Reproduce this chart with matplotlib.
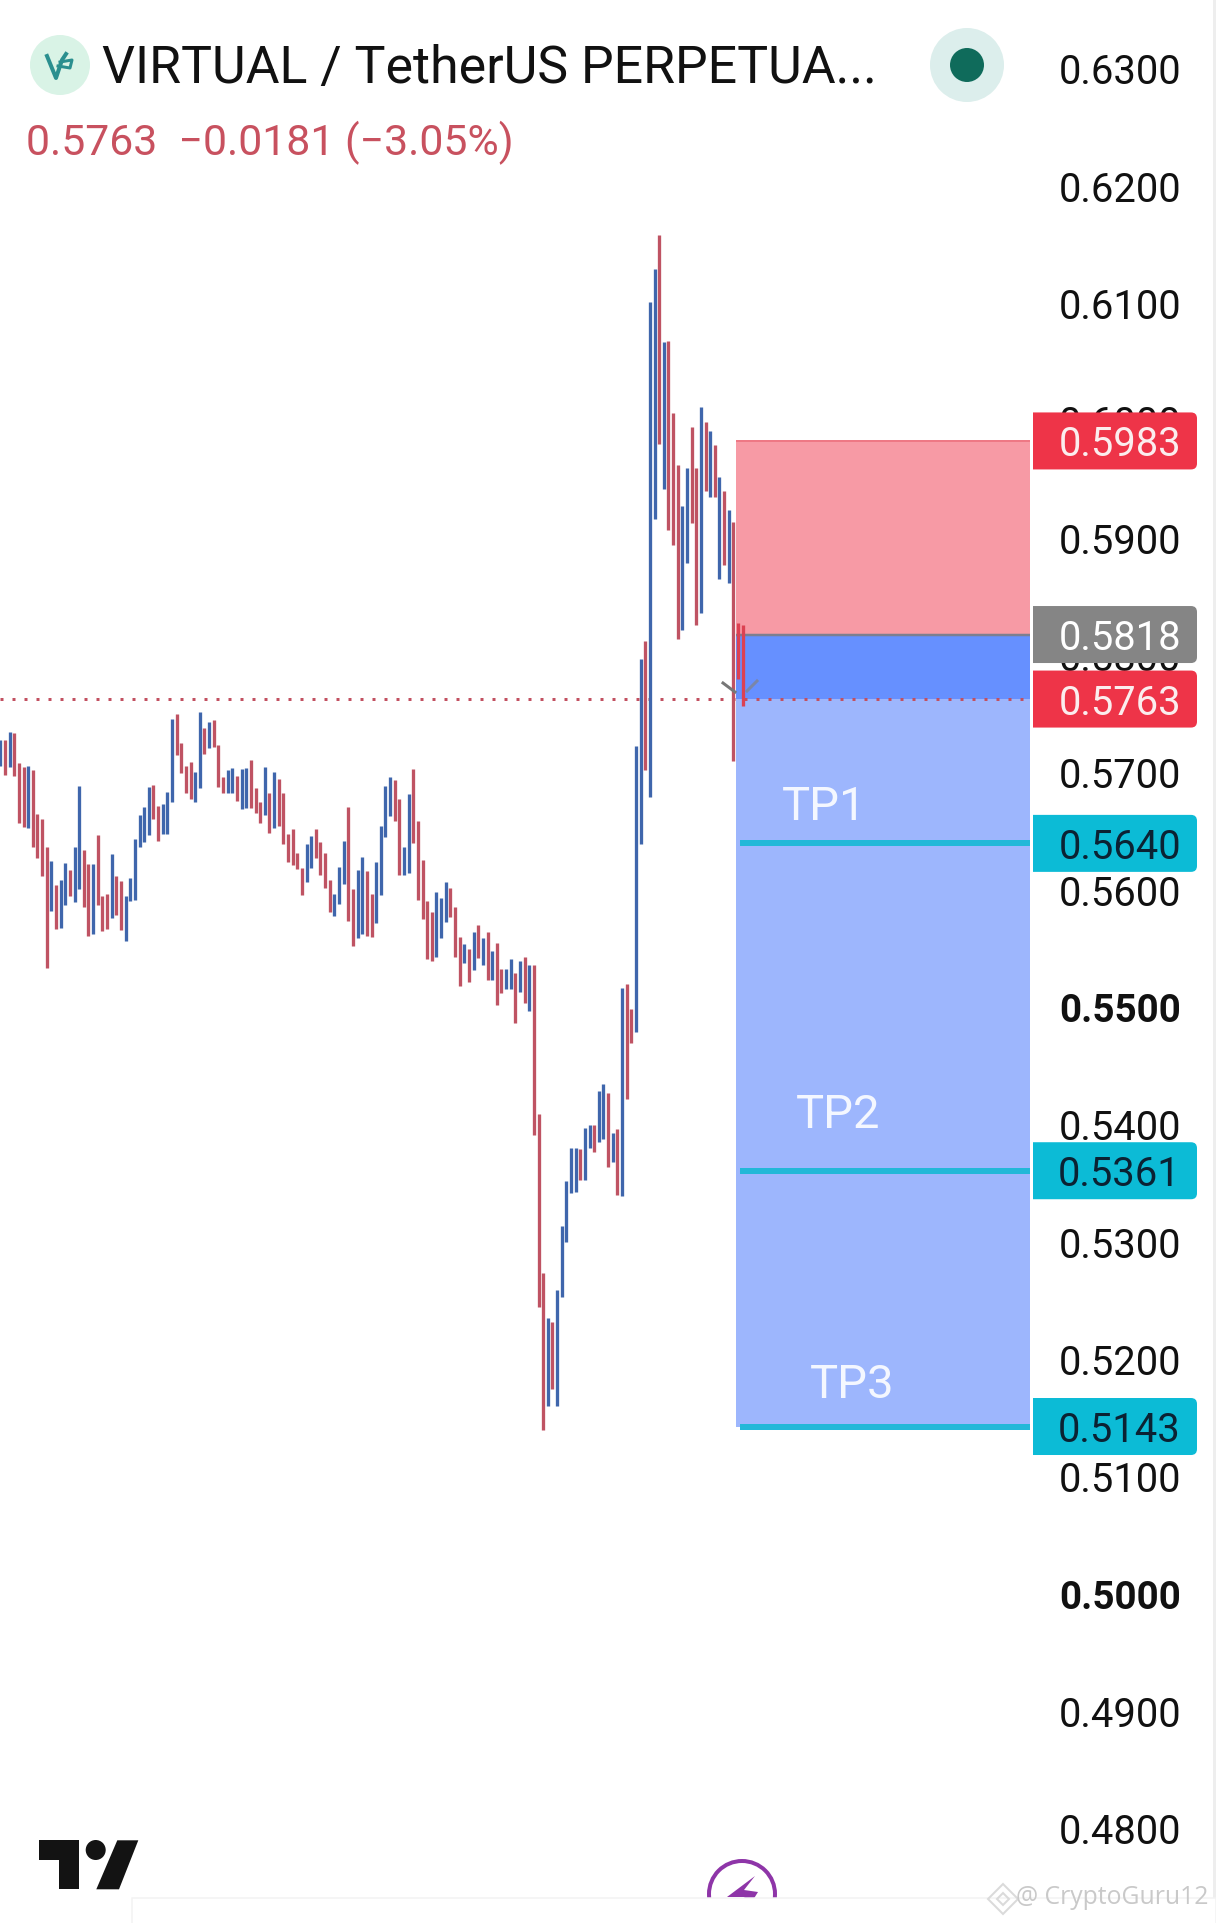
import matplotlib
matplotlib.use("Agg")
import matplotlib.pyplot as plt
import matplotlib.patches as mpatches
from matplotlib.path import Path

plt.rcParams['font.family'] = ['Roboto', 'DejaVu Sans']

bar_high = [
    .5729, .5729, .5736, .5735, .5709, .5706, .5707, .5703, .5666, .5662,
    .5638, .5626, .5605, .5610, .5624, .5618, .5638, .5690, .5635, .5623,
    .5623, .5648, .5596, .5598, .5632, .5613, .5609, .5596, .5611, .5645,
    .5665, .5672, .5689, .5691, .5673, .5674, .5685, .5747, .5751, .5726,
    .5707, .5710, .5702, .5753, .5739, .5744, .5746, .5725, .5697, .5703,
    .5705, .5698, .5704, .5705, .5712, .5688, .5676, .5706, .5684, .5702,
    .5696, .5684, .5649, .5653, .5633, .5620, .5640, .5647, .5653, .5642,
    .5633, .5610, .5598, .5621, .5643, .5672, .5602, .5618, .5629, .5617,
    .5598, .5625, .5656, .5690, .5697, .5695, .5679, .5638, .5683, .5704,
    .5660, .5627, .5592, .5582, .5599, .5594, .5608, .5603, .5587, .5561,
    .5555, .5551, .5565, .5571, .5560, .5565, .5549, .5556, .5534, .5534,
    .5542, .5530, .5541, .5544, .5537, .5537, .5410, .5275, .5236, .5233,
    .5260, .5315, .5353, .5381, .5381, .5380, .5398, .5401, .5401, .5430,
    .5436, .5428, .5394, .5397, .5518, .5521, .5500, .5724, .5798, .5813,
    .6102, .6130, .6159, .6068, .6069, .6008, .5963, .5928, .5961, .5996,
    .5961, .6013, .6000, .5992, .5980, .5953, .5941, .5925, .5915, .5829, .5827,
]
bar_low = [
    .5707, .5699, .5706, .5698, .5658, .5655, .5654, .5638, .5628, .5613,
    .5535, .5583, .5568, .5569, .5588, .5596, .5591, .5602, .5587, .5562,
    .5564, .5588, .5566, .5568, .5577, .5580, .5567, .5558, .5592, .5593,
    .5638, .5642, .5648, .5662, .5643, .5649, .5649, .5676, .5716, .5701,
    .5684, .5679, .5676, .5688, .5717, .5722, .5723, .5689, .5684, .5684,
    .5684, .5677, .5670, .5671, .5671, .5667, .5658, .5665, .5650, .5654,
    .5656, .5640, .5625, .5622, .5619, .5597, .5608, .5620, .5628, .5614,
    .5603, .5582, .5579, .5589, .5606, .5575, .5553, .5560, .5564, .5562,
    .5561, .5573, .5597, .5646, .5664, .5660, .5614, .5614, .5616, .5641,
    .5593, .5576, .5542, .5541, .5544, .5560, .5574, .5578, .5544, .5519,
    .5539, .5523, .5533, .5543, .5537, .5524, .5524, .5503, .5513, .5517,
    .5517, .5488, .5514, .5505, .5498, .5392, .5246, .5141, .5161, .5176,
    .5161, .5254, .5301, .5343, .5344, .5354, .5354, .5381, .5378, .5386,
    .5389, .5365, .5369, .5341, .5340, .5423, .5471, .5480, .5640, .5703,
    .5680, .5917, .5981, .5943, .5908, .5895, .5815, .5823, .5880, .5914,
    .5827, .5837, .5941, .5936, .5936, .5866, .5878, .5863, .5711, .5781, .5758,
]
bar_side = ("BRBRRRBRRR" "RBRBBRBBRR" "BRRRBRRBBB" "BBBRRBBBRR" "RRBBRBRRRB"
            "BRBBRRRBRB" "RRRRRRBBRR" "RRBBBRRBBR" "RBBBBRRBBR" "RRRRBBBRRR"
            "BRBRBRBRRB" "BRBRBRRRBR" "BBBBBRBBRB" "BRBRBRRBBR" "BBRBRRRBBR"
            "RBRBRBRBRR" "R")

ticks = [.63, .62, .61, .60, .59, .58, .57, .56, .55, .54, .53, .52, .51, .50, .49, .48]
bold_ticks = [.55, .50]

stop_price = 0.5983
entry_price = 0.5818
last_price = 0.5763
tp_prices = [0.5640, 0.5361, 0.5143]
tp_names = ["TP1", "TP2", "TP3"]

W, H = 1216, 1923
PX_PER_BAR = 4.64
PX_PER_UNIT = 11733


def bar_x(px):
    return (px - 0.3) / PX_PER_BAR


def price_y(p):
    return 69 + (0.63 - p) * PX_PER_UNIT


def px(n):
    return n * 0.72


fig = plt.figure(figsize=(W / 100, H / 100), dpi=100, facecolor='white')
ax = fig.add_axes([0, 0, 1, 1])
ax.set_xlim(bar_x(0), bar_x(W))
ax.set_ylim(0.63 - (H - 70) / PX_PER_UNIT, 0.63 + 70 / PX_PER_UNIT)
ax.axis('off')

# position zones, a pixel above the bars' scale like the reference
shift = 1 / PX_PER_UNIT
x0, x1 = bar_x(736), bar_x(1030)
ax.fill_between([x0, x1], entry_price + shift, stop_price + shift, color='#F79AA5', lw=0, zorder=1)
ax.fill_between([x0, x1], last_price + shift, entry_price + shift, color='#6690FF', lw=0, zorder=1)
ax.fill_between([x0, x1], tp_prices[-1] + shift, last_price + shift, color='#9DB6FD', lw=0, zorder=1)
ax.plot([x0, x1], [stop_price + shift] * 2, color='#EE7885', lw=px(2), zorder=2, solid_capstyle='butt')
ax.plot([x0, x1], [entry_price + shift] * 2, color='#7C7F90', lw=px(2.5), zorder=2, solid_capstyle='butt')
for p in tp_prices:
    ax.plot([bar_x(740), x1], [p + shift] * 2, color='#22B8D8', lw=px(6), zorder=2, solid_capstyle='butt')

# bars
for i in range(len(bar_high)):
    col = '#3F66AC' if bar_side[i] == 'B' else '#BF5363'
    if i >= 159:
        col = '#DC4152'
    ax.vlines(i, bar_low[i], bar_high[i], color=col, lw=px(3.3), zorder=4)

ax.plot([bar_x(0), x1], [last_price + shift] * 2, color='#C25060', lw=px(3),
        linestyle=(0, (1, 3)), zorder=3)

# everything else in screen pixels
ov = fig.add_axes([0, 0, 1, 1], facecolor='none')
ov.set_xlim(0, W)
ov.set_ylim(H, 0)
ov.axis('off')

ov.add_patch(mpatches.Rectangle((1213, 0), 3, H, color='#EEEEEE', lw=0))

# chevron on the last bar
ov.plot([723, 735], [683, 692], color='#777777', lw=px(3), zorder=2)
ov.plot([747, 757], [691, 681], color='#7A86A8', lw=px(3), zorder=2)

for t in ticks:
    bold = t in bold_ticks
    ov.text(1181, price_y(t), "%.4f" % t, ha='right', va='center_baseline',
            fontsize=27.8 if bold else 28.7, color='#111111',
            fontweight='bold' if bold else 'normal', zorder=3)


def tag(p, face, ink):
    y = price_y(p)
    l, r, t, b, c = 1033, 1197, y - 28.5, y + 28.5, 6
    verts = [(l, t), (r - c, t), (r, t), (r, t + c), (r, b - c), (r, b), (r - c, b), (l, b), (l, t)]
    codes = [Path.MOVETO, Path.LINETO, Path.CURVE3, Path.CURVE3, Path.LINETO,
             Path.CURVE3, Path.CURVE3, Path.LINETO, Path.CLOSEPOLY]
    ov.add_patch(mpatches.PathPatch(Path(verts, codes), facecolor=face, lw=0, zorder=5))
    ov.text(1181, y, "%.4f" % p, ha='right', va='center_baseline', fontsize=28.7, color=ink, zorder=6)


tag(stop_price, '#EE3448', '#FBEDEE')
tag(entry_price, '#858585', '#FFFFFF')
tag(last_price, '#EE3448', '#FBEDEE')
for p in tp_prices:
    tag(p, '#0CBBD6', '#0B2233')

for name, x, y in zip(tp_names, [782, 796, 810], [803, 1110, 1380]):
    ov.text(x, y, name, ha='left', va='center_baseline', fontsize=34, color='#F4F7FF', zorder=6)

# header
ov.add_patch(mpatches.Circle((60, 65), 30, facecolor='#D9F3E6', lw=0))
ov.plot([47, 56, 62, 66], [56, 78, 60, 54], color='#2A8F8F', lw=px(4))
ov.plot([58, 70, 72, 60], [66, 68, 60, 62], color='#2A8F8F', lw=px(3))
ov.text(102, 63, "VIRTUAL / TetherUS PERPETUA...", ha='left', va='center_baseline',
        fontsize=37.4, color='#111111')
ov.text(26, 138, "0.5763  \u22120.0181 (\u22123.05%)", ha='left', va='center_baseline',
        fontsize=30.8, color='#C8515F')
ov.add_patch(mpatches.Circle((967, 65), 37, facecolor='#DCEEEC', lw=0))
ov.add_patch(mpatches.Circle((967, 65), 17, facecolor='#0F6B5B', lw=0))

# TradingView logo
ov.add_patch(mpatches.Polygon([(39.3, 1840.3), (79.3, 1840.3), (79.3, 1889.3), (59.3, 1889.3),
                               (59.3, 1860), (39.3, 1860)], facecolor='#131313', lw=0))
ov.add_patch(mpatches.Circle((95.7, 1850), 10, facecolor='#131313', lw=0))
ov.add_patch(mpatches.Polygon([(117.3, 1840.3), (138.3, 1840.3), (119, 1889.3), (96.3, 1889.3)],
                              facecolor='#131313', lw=0))

# lightning icon, cut by the bottom sheet
ov.add_patch(mpatches.Circle((742, 1894), 33, facecolor='none', edgecolor='#8E35A8', lw=px(4), zorder=2))
ov.add_patch(mpatches.Polygon([(755, 1876), (727, 1897), (745, 1897), (741, 1900), (753, 1900),
                               (758, 1892), (744, 1890)], facecolor='#8E35A8', lw=0, zorder=2))
ov.add_patch(mpatches.Rectangle((132, 1898), W - 132, 30, facecolor='white', edgecolor='#F3F3F3',
                                lw=px(1.5), zorder=3))

# watermark
ov.add_patch(mpatches.Polygon([(1003, 1884), (1018, 1899), (1003, 1914), (988, 1899)], facecolor='none',
                              edgecolor='#DADADA', lw=px(2), zorder=7))
ov.add_patch(mpatches.Polygon([(1003, 1893), (1009, 1899), (1003, 1905), (997, 1899)], facecolor='none',
                              edgecolor='#DADADA', lw=px(2), zorder=7))
ov.text(1209, 1898, "@ CryptoGuru12", ha='right', va='center', fontsize=17.8, color='#C9C9C9',
        family=['Open Sans', 'DejaVu Sans'], zorder=7)

fig.savefig('out.png', dpi=100)
